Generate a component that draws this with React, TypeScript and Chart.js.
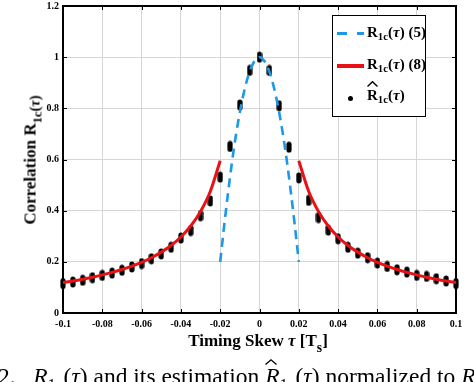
import React, { useEffect, useRef } from 'react';
import { Chart, registerables } from 'chart.js';

Chart.register(...registerables);

// ---- axis ranges / ticks ----
const X_MIN = -0.1;
const X_MAX = 0.1;
const X_STEP = 0.02;
const Y_MIN = 0;
const Y_MAX = 1.2;
const Y_STEP = 0.2;

// ---- estimated correlation (black markers) ----
const estTau = [
  -0.1, -0.095, -0.09, -0.085, -0.08, -0.075, -0.07, -0.065, -0.06, -0.055, -0.05,
  -0.045, -0.04, -0.035, -0.03, -0.025, -0.02, -0.015, -0.01, -0.005, 0,
  0.005, 0.01, 0.015, 0.02, 0.025, 0.03, 0.035, 0.04, 0.045, 0.05,
  0.055, 0.06, 0.065, 0.07, 0.075, 0.08, 0.085, 0.09, 0.095, 0.1,
];
const estR = [
  0.115, 0.121, 0.128, 0.138, 0.147, 0.156, 0.167, 0.18, 0.193, 0.212, 0.231,
  0.257, 0.293, 0.322, 0.38, 0.438, 0.531, 0.651, 0.813, 0.948, 1.0,
  0.948, 0.81, 0.648, 0.528, 0.44, 0.373, 0.324, 0.29, 0.257, 0.234,
  0.216, 0.195, 0.182, 0.169, 0.16, 0.147, 0.143, 0.134, 0.125, 0.115,
];

// ---- R1c(tau) (8) : red tails ----
const tailTauLeft = [
  -0.1, -0.095, -0.09, -0.085, -0.08, -0.075, -0.07, -0.065, -0.06,
  -0.055, -0.05, -0.045, -0.04, -0.035, -0.03, -0.025, -0.02,
];
const tailRLeft = [
  0.119, 0.125, 0.132, 0.14, 0.149, 0.159, 0.17, 0.183, 0.198,
  0.216, 0.238, 0.264, 0.297, 0.34, 0.397, 0.476, 0.595,
];
const tailTauRight = [
  0.02, 0.025, 0.03, 0.035, 0.04, 0.045, 0.05, 0.055, 0.06,
  0.065, 0.07, 0.075, 0.08, 0.085, 0.09, 0.095, 0.1,
];
const tailRRight = [
  0.595, 0.476, 0.397, 0.34, 0.297, 0.264, 0.238, 0.216, 0.198,
  0.183, 0.17, 0.159, 0.149, 0.14, 0.132, 0.125, 0.119,
];

// ---- R1c(tau) (5) : blue dashed main lobe ----
const mainTau = [
  -0.02, -0.018, -0.016, -0.014, -0.012, -0.01, -0.008, -0.006, -0.004, -0.002, 0,
  0.002, 0.004, 0.006, 0.008, 0.01, 0.012, 0.014, 0.016, 0.018, 0.02,
];
const mainR = [
  0.2, 0.34, 0.47, 0.59, 0.695, 0.785, 0.86, 0.92, 0.963, 0.99, 1.0,
  0.99, 0.963, 0.92, 0.86, 0.785, 0.695, 0.59, 0.47, 0.34, 0.2,
];

const RED = 'rgb(232,18,22)';
const BLUE = 'rgb(28,152,230)';
const GRID = '#d6d6d6';
const SERIF = '"Liberation Serif", "Times New Roman", serif';

const fmt = (v: number) => String(Number(Number(v).toFixed(3)));

function makeBlob(): HTMLCanvasElement {
  const c = document.createElement('canvas');
  c.width = 6;
  c.height = 12;
  const g = c.getContext('2d')!;
  g.fillStyle = '#000';
  const r = 2.6;
  g.beginPath();
  g.arc(3, 3.2, r, Math.PI, 0);
  g.lineTo(3 + r, 8.8);
  g.arc(3, 8.8, r, 0, Math.PI);
  g.closePath();
  g.fill();
  return c;
}

const framePlugin = {
  id: 'frame',
  beforeDatasetsDraw(chart: any) {
    const { ctx, chartArea } = chart;
    const { left, right, top, bottom } = chartArea;
    const xs = chart.scales.x;
    const ys = chart.scales.y;
    ctx.save();
    ctx.strokeStyle = '#000';
    ctx.lineWidth = 1;
    const tl = 4;
    ctx.beginPath();
    xs.ticks.forEach((t: any) => {
      const px = Math.round(xs.getPixelForValue(t.value)) + 0.5;
      ctx.moveTo(px, top);
      ctx.lineTo(px, top + tl);
      ctx.moveTo(px, bottom);
      ctx.lineTo(px, bottom - tl);
    });
    ys.ticks.forEach((t: any) => {
      const py = Math.round(ys.getPixelForValue(t.value)) + 0.5;
      ctx.moveTo(left, py);
      ctx.lineTo(left + tl, py);
      ctx.moveTo(right, py);
      ctx.lineTo(right - tl, py);
    });
    ctx.stroke();
    ctx.lineWidth = 2;
    ctx.strokeRect(left, top, right - left, bottom - top);
    ctx.restore();
  },
};

const Sub: React.FC<{ children: React.ReactNode; drop?: string; size?: string }> = ({
  children,
  drop = '0.35em',
  size = '0.72em',
}) => (
  <span style={{ fontSize: size, position: 'relative', top: drop }}>{children}</span>
);

const Hat: React.FC<{ w: number; top?: number }> = ({ w, top = -7 }) => (
  <svg
    width={w}
    height={6}
    style={{ position: 'absolute', left: 0, top, overflow: 'visible' }}
  >
    <polyline points={`0.5,5.5 ${w / 2},0.8 ${w - 0.5},5.5`} stroke="#000" strokeWidth={1.4} fill="none" />
  </svg>
);

export default function App() {
  const canvasRef = useRef<HTMLCanvasElement | null>(null);

  useEffect(() => {
    const canvas = canvasRef.current;
    if (!canvas) return;
    const blob = makeBlob();
    const chart = new Chart(canvas, {
      type: 'line',
      data: {
        datasets: [
          {
            label: 'R1c (8) left',
            data: tailTauLeft.map((x, i) => ({ x, y: tailRLeft[i] })),
            borderColor: RED,
            backgroundColor: RED,
            borderWidth: 3,
            pointRadius: 0,
            cubicInterpolationMode: 'monotone',
            fill: false,
            order: 0,
          },
          {
            label: 'R1c (8) right',
            data: tailTauRight.map((x, i) => ({ x, y: tailRRight[i] })),
            borderColor: RED,
            backgroundColor: RED,
            borderWidth: 3,
            pointRadius: 0,
            cubicInterpolationMode: 'monotone',
            fill: false,
            order: 0,
          },
          {
            label: 'R1c (5)',
            data: mainTau.map((x, i) => ({ x, y: mainR[i] })),
            borderColor: BLUE,
            backgroundColor: BLUE,
            borderWidth: 2.6,
            borderDash: [9, 6],
            pointRadius: 0,
            cubicInterpolationMode: 'monotone',
            fill: false,
            order: 1,
          },
          {
            label: 'estimate',
            data: estTau.map((x, i) => ({ x, y: estR[i] })),
            showLine: false,
            pointStyle: blob as any,
            pointRadius: 5,
            pointBackgroundColor: '#000',
            pointBorderColor: '#000',
            clip: false as any,
            order: 2,
          },
        ] as any,
      },
      options: {
        animation: false,
        responsive: true,
        maintainAspectRatio: false,
        layout: { padding: { top: 4, right: 18, left: 0, bottom: 0 } },
        plugins: {
          legend: { display: false },
          tooltip: { enabled: false },
        },
        events: [],
        scales: {
          x: {
            type: 'linear',
            min: X_MIN,
            max: X_MAX,
            ticks: {
              stepSize: X_STEP,
              autoSkip: false,
              maxRotation: 0,
              padding: 5,
              color: '#000',
              font: { family: SERIF, size: 10, weight: 'bold' },
              callback: (v: any) => fmt(v),
            },
            grid: { color: GRID, lineWidth: 1, drawTicks: false },
            border: { display: false },
            afterFit: (s: any) => {
              s.height = 69;
              s.paddingLeft = 0;
              s.paddingRight = 0;
            },
          },
          y: {
            type: 'linear',
            min: Y_MIN,
            max: Y_MAX,
            ticks: {
              stepSize: Y_STEP,
              padding: 4,
              color: '#000',
              font: { family: SERIF, size: 10, weight: 'bold' },
              callback: (v: any) => fmt(v),
            },
            grid: { color: GRID, lineWidth: 1, drawTicks: false },
            border: { display: false },
            afterFit: (s: any) => {
              s.width = 63;
              s.paddingTop = 0;
              s.paddingBottom = 0;
            },
          },
        },
      } as any,
      plugins: [framePlugin],
    });
    return () => chart.destroy();
  }, []);

  const legendText: React.CSSProperties = {
    position: 'absolute',
    left: 367,
    font: `bold 15px ${SERIF}`,
    lineHeight: 1,
    whiteSpace: 'nowrap',
    color: '#000',
  };

  return (
    <div
      style={{
        position: 'fixed',
        left: 0,
        top: 0,
        width: 474,
        height: 382,
        overflow: 'hidden',
        background: '#fff',
      }}
    >
      <canvas ref={canvasRef} style={{ position: 'absolute', left: 0, top: 0 }} />

      {/* Y axis title */}
      <div
        style={{
          position: 'absolute',
          left: 30,
          top: 160,
          transform: 'translate(-50%, -50%) rotate(-90deg)',
          font: `bold 17px ${SERIF}`,
          lineHeight: 1,
          whiteSpace: 'nowrap',
          color: '#000',
        }}
      >
        Correlation R<Sub drop="0.45em" size="0.75em">1c</Sub>
        <span style={{ fontSize: '0.85em', position: 'relative', top: '0.3em' }}>
          (<i>τ</i>)
        </span>
      </div>

      {/* X axis title */}
      <div
        style={{
          position: 'absolute',
          left: 258,
          top: 332,
          transform: 'translateX(-50%)',
          font: `bold 17px ${SERIF}`,
          lineHeight: 1,
          whiteSpace: 'nowrap',
          color: '#000',
        }}
      >
        Timing Skew <i>τ</i> [T<Sub drop="0.45em" size="0.8em">s</Sub>]
      </div>

      {/* Legend */}
      <div
        style={{
          position: 'absolute',
          left: 332,
          top: 15,
          width: 94,
          height: 102,
          boxSizing: 'border-box',
          border: '1.3px solid #000',
          background: '#fff',
        }}
      />
      <div style={{ position: 'absolute', left: 337, top: 32, width: 10, height: 3, background: BLUE }} />
      <div style={{ position: 'absolute', left: 357, top: 32, width: 7, height: 3, background: BLUE }} />
      <div style={{ position: 'absolute', left: 337, top: 64, width: 27, height: 3.5, background: RED }} />
      <div
        style={{
          position: 'absolute',
          left: 348,
          top: 95.5,
          width: 5,
          height: 5,
          borderRadius: '50%',
          background: '#000',
        }}
      />
      <div style={{ ...legendText, top: 24.5 }}>
        R<Sub>1c</Sub>(<i>τ</i>) (5)
      </div>
      <div style={{ ...legendText, top: 56.5 }}>
        R<Sub>1c</Sub>(<i>τ</i>) (8)
      </div>
      <div style={{ ...legendText, top: 87.5 }}>
        <span style={{ position: 'relative', display: 'inline-block' }}>
          <Hat w={11} />R
        </span>
        <Sub>1c</Sub>(<i>τ</i>)
      </div>

      {/* figure caption (cut off by the image edge) */}
      <div
        style={{
          position: 'absolute',
          left: -2,
          top: 365,
          font: `23.5px ${SERIF}`,
          lineHeight: 1,
          whiteSpace: 'nowrap',
          color: '#000',
        }}
      >
        2.&nbsp;&nbsp;&nbsp;<i>R</i>
        <Sub>1c</Sub>(<i>τ</i>) and its estimation{' '}
        <span style={{ position: 'relative', display: 'inline-block' }}>
          <i>R</i>
          <Hat w={12} top={-6} />
        </span>
        <Sub>1c</Sub>(<i>τ</i>) normalized to <i>R</i>
      </div>
    </div>
  );
}
